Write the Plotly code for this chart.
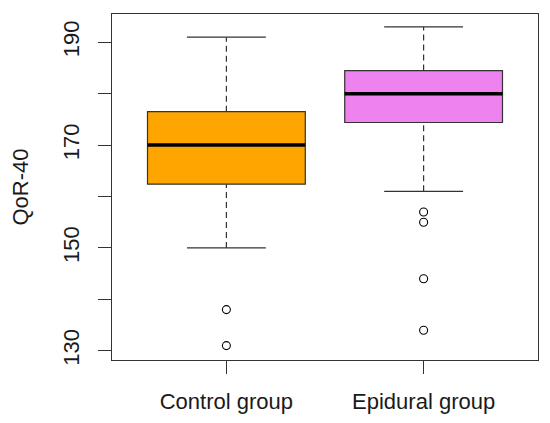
import plotly.graph_objects as go

# Summary values
groups = ['Control group', 'Epidural group']
positions = [1, 2]
q1 = [162.4, 174.4]
median = [170.0, 180.0]
q3 = [176.5, 184.5]
lower_whisker = [150.0, 161.0]
upper_whisker = [191.0, 193.0]
outliers = [[138.0, 131.0], [157.0, 155.0, 144.0, 134.0]]
box_colors = ['#FFA500', '#EE82EE']

y_tickvals = [130, 140, 150, 160, 170, 180, 190]
y_ticktext = ['130', '', '150', '', '170', '', '190']

edge = '#333333'
font = dict(family='Liberation Sans, Arial, sans-serif', size=22, color='#1a1a1a')

fig = go.Figure()

for i, name in enumerate(groups):
    x0 = positions[i]
    # dashed whiskers
    fig.add_trace(go.Scatter(x=[x0, x0], y=[lower_whisker[i], q1[i]], mode='lines',
                             line=dict(color=edge, width=1.2, dash='6px,4px'),
                             showlegend=False, hoverinfo='skip'))
    fig.add_trace(go.Scatter(x=[x0, x0], y=[q3[i], upper_whisker[i]], mode='lines',
                             line=dict(color=edge, width=1.2, dash='6px,4px'),
                             showlegend=False, hoverinfo='skip'))
    # whisker caps
    for w in (lower_whisker[i], upper_whisker[i]):
        fig.add_trace(go.Scatter(x=[x0 - 0.2, x0 + 0.2], y=[w, w], mode='lines',
                                 line=dict(color=edge, width=1.4),
                                 showlegend=False, hoverinfo='skip'))
    # box
    fig.add_trace(go.Box(x=[x0], q1=[q1[i]], median=[median[i]], q3=[q3[i]],
                         lowerfence=[q1[i]], upperfence=[q3[i]],
                         width=0.8, whiskerwidth=0, fillcolor=box_colors[i],
                         line=dict(color=edge, width=1.2),
                         name=name, showlegend=False, hoverinfo='skip'))
    # thick median
    fig.add_trace(go.Scatter(x=[x0 - 0.4, x0 + 0.4], y=[median[i], median[i]], mode='lines',
                             line=dict(color='black', width=3.5),
                             showlegend=False, hoverinfo='skip'))
    # outliers
    fig.add_trace(go.Scatter(x=[x0] * len(outliers[i]), y=outliers[i], mode='markers',
                             marker=dict(symbol='circle-open', size=8, color='black',
                                         line=dict(width=1.1)),
                             showlegend=False, hoverinfo='skip'))

# page body adds an 8px margin, so the figure is a little smaller than the window
fig.update_layout(
    width=542, height=415,
    margin=dict(l=104, r=12, t=6, b=63),
    paper_bgcolor='white', plot_bgcolor='white',
    font=font,
    xaxis=dict(range=[0.42, 2.58], tickvals=positions, ticktext=groups,
               ticks='outside', ticklen=13, tickcolor=edge, tickwidth=1.4,
               ticklabelstandoff=8,
               showgrid=False, zeroline=False, showline=True, linecolor=edge,
               linewidth=1.4, mirror=True, tickfont=font),
    yaxis=dict(range=[128.2, 195.5], tickvals=y_tickvals, ticktext=y_ticktext,
               ticks='outside', ticklen=13, tickcolor=edge, tickwidth=1.4,
               ticklabelstandoff=10,
               tickangle=-90, showgrid=False, zeroline=False, showline=True,
               linecolor=edge, linewidth=1.4, mirror=True, tickfont=font,
               title=dict(text='QoR-40', font=font, standoff=30)),
)

fig.write_html('out.html')
